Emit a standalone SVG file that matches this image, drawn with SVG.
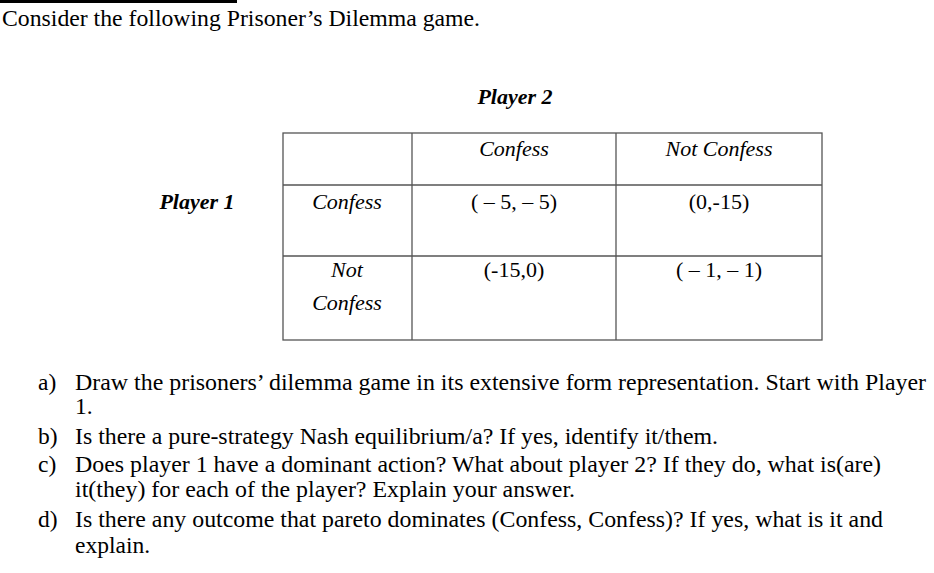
<svg xmlns="http://www.w3.org/2000/svg" width="934" height="573" viewBox="0 0 934 573">
<style>
text{font-family:"Liberation Serif","Times New Roman",serif;fill:#000}
.t{font-size:22px}
.i{font-size:22px;font-style:italic}
.b{font-size:22px;font-style:italic;font-weight:bold}
.m{text-anchor:middle}
.q{font-size:23.5px}
line{stroke:#555;stroke-width:1.3}
</style>
<rect width="934" height="573" fill="#fff"/>
<rect x="0" y="0" width="237" height="3" fill="#000"/>
<text class="q" x="2" y="26" textLength="478" lengthAdjust="spacingAndGlyphs">Consider the following Prisoner’s Dilemma game.</text>
<text class="b m" x="515" y="104">Player 2</text>
<text class="b m" x="197" y="209">Player 1</text>
<g id="table">
<rect x="283" y="133" width="539" height="207" fill="none" stroke="#555" stroke-width="1.3"/>
<line x1="412" y1="133" x2="412" y2="340"/>
<line x1="616" y1="133" x2="616" y2="340"/>
<line x1="283" y1="185" x2="822" y2="185"/>
<line x1="283" y1="256" x2="822" y2="256"/>
<text class="i m" x="514" y="156">Confess</text>
<text class="i m" x="719" y="156">Not Confess</text>
<text class="i m" x="347" y="209">Confess</text>
<text class="t m" x="514" y="209">( – 5, – 5)</text>
<text class="t m" x="719" y="209">(0,-15)</text>
<text class="i m" x="347" y="277">Not</text>
<text class="i m" x="347" y="310">Confess</text>
<text class="t m" x="514" y="277">(-15,0)</text>
<text class="t m" x="719" y="277">( – 1, – 1)</text>
</g>
<g id="questions">
<text class="q" x="38" y="390">a)</text>
<text class="q" x="75" y="390" textLength="851" lengthAdjust="spacingAndGlyphs">Draw the prisoners’ dilemma game in its extensive form representation. Start with Player</text>
<text class="q" x="75" y="414">1.</text>
<text class="q" x="38" y="444">b)</text>
<text class="q" x="75" y="444" textLength="643" lengthAdjust="spacingAndGlyphs">Is there a pure-strategy Nash equilibrium/a? If yes, identify it/them.</text>
<text class="q" x="38" y="472">c)</text>
<text class="q" x="75" y="472" textLength="806" lengthAdjust="spacingAndGlyphs">Does player 1 have a dominant action? What about player 2? If they do, what is(are)</text>
<text class="q" x="75" y="497" textLength="500" lengthAdjust="spacingAndGlyphs">it(they) for each of the player? Explain your answer.</text>
<text class="q" x="38" y="527">d)</text>
<text class="q" x="75" y="527" textLength="808" lengthAdjust="spacingAndGlyphs">Is there any outcome that pareto dominates (Confess, Confess)? If yes, what is it and</text>
<text class="q" x="75" y="553">explain.</text>
</g>
</svg>
